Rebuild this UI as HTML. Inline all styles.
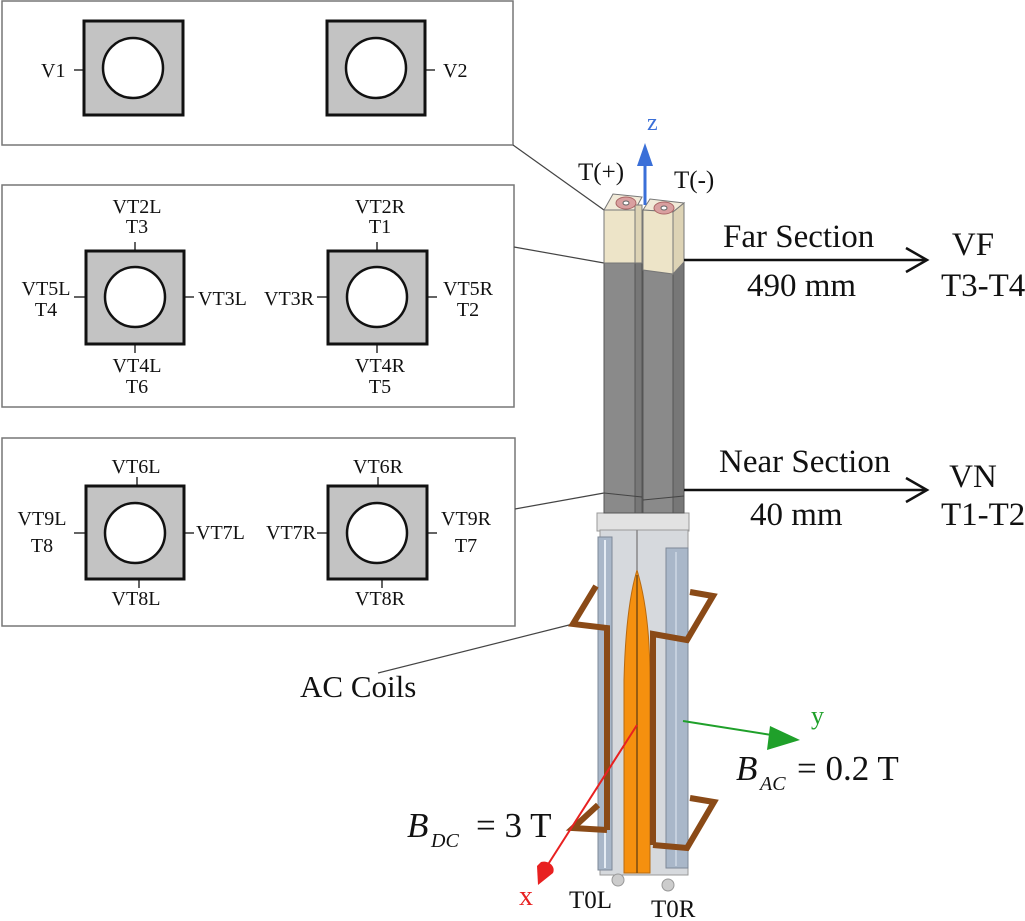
<!DOCTYPE html>
<html><head><meta charset="utf-8"><style>
html,body{margin:0;padding:0;background:#fff;}
svg{display:block;}
text{font-family:"Liberation Serif",serif;fill:#111;}
.s{font-size:20px;}
</style></head><body>
<svg width="1025" height="921" viewBox="0 0 1025 921" xmlns="http://www.w3.org/2000/svg">
<!-- boxes -->
<g fill="none" stroke="#777" stroke-width="1.5">
<rect x="2" y="1" width="511" height="144"/>
<rect x="2" y="185" width="512" height="222"/>
<rect x="2" y="438" width="513" height="188"/>
</g>
<!-- leader lines -->
<g stroke="#444" stroke-width="1.2">
<line x1="513" y1="145" x2="604" y2="210"/>
<line x1="514" y1="247" x2="604" y2="263"/>
<line x1="515" y1="509" x2="604" y2="493"/>
<line x1="378" y1="673" x2="573" y2="624"/>
</g>
<!-- squares -->
<g stroke="#111" stroke-width="3" fill="#c3c3c3">
<rect x="84" y="21" width="99" height="94"/>
<rect x="327" y="21" width="98" height="94"/>
<rect x="86" y="251" width="98" height="93"/>
<rect x="328" y="251" width="99" height="93"/>
<rect x="86" y="486" width="98" height="93"/>
<rect x="328" y="486" width="99" height="93"/>
</g>
<g stroke="#111" stroke-width="2.5" fill="#fff">
<circle cx="133" cy="68" r="30"/>
<circle cx="376" cy="68" r="30"/>
<circle cx="135" cy="297" r="30"/>
<circle cx="377" cy="297" r="30"/>
<circle cx="135" cy="533" r="30"/>
<circle cx="377" cy="533" r="30"/>
</g>
<!-- ticks -->
<g stroke="#111" stroke-width="1.3">
<line x1="74" y1="70" x2="84" y2="70"/><line x1="425" y1="70" x2="435" y2="70"/>
<line x1="135" y1="242" x2="135" y2="251"/><line x1="135" y1="344" x2="135" y2="353"/>
<line x1="74" y1="297" x2="86" y2="297"/><line x1="184" y1="297" x2="194" y2="297"/>
<line x1="377" y1="242" x2="377" y2="251"/><line x1="377" y1="344" x2="377" y2="353"/>
<line x1="317" y1="297" x2="328" y2="297"/><line x1="427" y1="297" x2="437" y2="297"/>
<line x1="137" y1="477" x2="137" y2="486"/><line x1="139" y1="579" x2="139" y2="588"/>
<line x1="74" y1="533" x2="86" y2="533"/><line x1="184" y1="533" x2="194" y2="533"/>
<line x1="378" y1="477" x2="378" y2="486"/><line x1="382" y1="579" x2="382" y2="588"/>
<line x1="317" y1="533" x2="328" y2="533"/><line x1="427" y1="533" x2="437" y2="533"/>
</g>
<!-- small labels -->
<g class="s">
<text x="41" y="77">V1</text><text x="443" y="77">V2</text>
<text x="137" y="213" text-anchor="middle">VT2L</text><text x="137" y="233" text-anchor="middle">T3</text>
<text x="46" y="295" text-anchor="middle">VT5L</text><text x="46" y="316" text-anchor="middle">T4</text>
<text x="198" y="305">VT3L</text>
<text x="137" y="372" text-anchor="middle">VT4L</text><text x="137" y="393" text-anchor="middle">T6</text>
<text x="380" y="213" text-anchor="middle">VT2R</text><text x="380" y="233" text-anchor="middle">T1</text>
<text x="314" y="305" text-anchor="end">VT3R</text>
<text x="468" y="295" text-anchor="middle">VT5R</text><text x="468" y="316" text-anchor="middle">T2</text>
<text x="380" y="372" text-anchor="middle">VT4R</text><text x="380" y="393" text-anchor="middle">T5</text>
<text x="136" y="473" text-anchor="middle">VT6L</text>
<text x="42" y="525" text-anchor="middle">VT9L</text><text x="42" y="552" text-anchor="middle">T8</text>
<text x="196" y="539">VT7L</text>
<text x="136" y="605" text-anchor="middle">VT8L</text>
<text x="378" y="473" text-anchor="middle">VT6R</text>
<text x="316" y="539" text-anchor="end">VT7R</text>
<text x="466" y="525" text-anchor="middle">VT9R</text><text x="466" y="552" text-anchor="middle">T7</text>
<text x="380" y="605" text-anchor="middle">VT8R</text>
</g>
<!-- apparatus base -->
<rect x="597" y="513" width="92" height="18" fill="#e2e2e2" stroke="#999"/>
<rect x="600" y="530" width="88" height="345" fill="#d6d9dd" stroke="#999"/>
<rect x="598" y="537" width="14" height="333" fill="#a9b7c9" stroke="#7d8898"/>
<rect x="666" y="548" width="22" height="320" fill="#a9b7c9" stroke="#7d8898"/>
<line x1="605" y1="540" x2="605" y2="868" stroke="#e5ecf4" stroke-width="2"/>
<line x1="676" y1="552" x2="676" y2="866" stroke="#c5d0de" stroke-width="2"/>
<circle cx="618" cy="880" r="6" fill="#ccc" stroke="#999"/>
<circle cx="668" cy="885" r="6" fill="#ccc" stroke="#999"/>
<path d="M637 570 C628 600 625 640 624 680 L624 873 L650 873 L650 680 C650 640 646 600 637 570Z" fill="#f5900f" stroke="#b86a10"/>
<line x1="637" y1="575" x2="637" y2="873" stroke="#7a4a10" stroke-width="1.5"/>
<line x1="637" y1="530" x2="637" y2="570" stroke="#888" stroke-width="1.5"/>
<!-- coils -->
<g fill="none" stroke="#8a4a17" stroke-width="6" stroke-linejoin="miter">
<polyline points="596,586 573,624 607,628 607,830"/>
<polyline points="598,805 573,828 607,830"/>
<polyline points="653,845 653,634 687,640 713,596 690,592"/>
<polyline points="653,845 687,848 714,802 690,798"/>
</g>
<!-- columns -->
<rect x="604" y="263" width="31" height="250" fill="#8a8a8a" stroke="#555"/>
<rect x="635" y="263" width="7" height="250" fill="#777" stroke="#555"/>
<rect x="643" y="270" width="30" height="243" fill="#8a8a8a" stroke="#555"/>
<rect x="673" y="262" width="11" height="251" fill="#777" stroke="#555"/>
<line x1="604" y1="493" x2="642" y2="497" stroke="#444"/>
<line x1="643" y1="500" x2="684" y2="496" stroke="#444"/>
<path d="M604 210 L613 194 L642 197 L635 210Z" fill="#f1ead8" stroke="#777"/>
<rect x="604" y="210" width="31" height="53" fill="#ede4c8" stroke="#777"/>
<rect x="635" y="205" width="7" height="58" fill="#ddd3b5" stroke="#777"/>
<path d="M643 210 L650 199 L684 203 L673 212Z" fill="#f1ead8" stroke="#777"/>
<path d="M643 210 L673 212 L673 274 L643 270Z" fill="#ede4c8" stroke="#777"/>
<path d="M673 212 L684 203 L684 262 L673 274Z" fill="#ddd3b5" stroke="#777"/>
<ellipse cx="626" cy="203" rx="10" ry="6" fill="#d9a0a0" stroke="#a66"/>
<ellipse cx="626" cy="203" rx="3" ry="2" fill="#fff" stroke="#666"/>
<ellipse cx="664" cy="208" rx="10" ry="6" fill="#d9a0a0" stroke="#a66"/>
<ellipse cx="664" cy="208" rx="3" ry="2" fill="#fff" stroke="#666"/>
<!-- axes -->
<line x1="645" y1="205" x2="645" y2="160" stroke="#3a6fd8" stroke-width="3"/>
<polygon points="637,166 645,143 653,166" fill="#3a6fd8"/>
<text x="647" y="130" style="font-size:24px;fill:#3a6fd8">z</text>
<line x1="683" y1="721" x2="778" y2="736" stroke="#1fa02a" stroke-width="2"/>
<polygon points="770,726 800,740 767,750" fill="#1fa02a"/>
<text x="811" y="724" style="font-size:26px;fill:#1fa02a">y</text>
<line x1="637" y1="725" x2="547" y2="866" stroke="#e82020" stroke-width="2"/>
<path d="M541 862 C548 860 556 866 553 873 L538 885 L537 866Z" fill="#e82020"/>
<text x="519" y="905" style="font-size:28px;fill:#e82020">x</text>
<!-- section arrows -->
<g stroke="#111" stroke-width="2.5" fill="none">
<line x1="684" y1="260" x2="926" y2="260"/><polyline points="906,248 927,260 906,272"/>
<line x1="684" y1="490" x2="926" y2="490"/><polyline points="906,478 927,490 906,502"/>
</g>
<g style="font-size:33px">
<text x="723" y="247">Far Section</text>
<text x="747" y="296">490 mm</text>
<text x="973" y="255" text-anchor="middle">VF</text>
<text x="941" y="296">T3-T4</text>
<text x="719" y="472">Near Section</text>
<text x="750" y="525">40 mm</text>
<text x="973" y="487" text-anchor="middle">VN</text>
<text x="941" y="525">T1-T2</text>
<text x="300" y="697" style="font-size:31px">AC Coils</text>
</g>
<text x="578" y="180" style="font-size:25px">T(+)</text>
<text x="674" y="188" style="font-size:25px">T(-)</text>
<text x="569" y="908" style="font-size:25px">T0L</text>
<text x="651" y="917" style="font-size:25px">T0R</text>
<text x="407" y="837" style="font-size:35px;font-style:italic">B</text>
<text x="431" y="847" style="font-size:20px;font-style:italic">DC</text>
<text x="476" y="837" style="font-size:35px">= 3 T</text>
<text x="736" y="780" style="font-size:35px;font-style:italic">B</text>
<text x="760" y="790" style="font-size:20px;font-style:italic">AC</text>
<text x="797" y="780" style="font-size:35px">= 0.2 T</text>
</svg>
</body></html>
